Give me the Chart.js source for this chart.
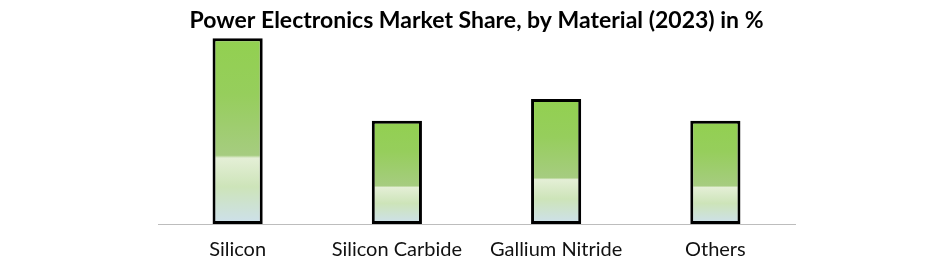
<!DOCTYPE html>
<html>
<head>
<meta charset="utf-8">
<script src="https://cdn.jsdelivr.net/npm/chart.js@4"></script>
<style>
  html, body { margin: 0; padding: 0; background: #fff; }
  #wrap { width: 941px; height: 277px; }
</style>
</head>
<body>
<div id="wrap"><canvas id="grafico"></canvas></div>
<script>
const materiales = ["Silicon", "Silicon Carbide", "Gallium Nitride", "Others"];
const cuotas = [45, 25, 30.3, 25];
const titulo = "Power Electronics Market Share, by Material (2023) in %";

// degradado por barra: verde arriba, banda clara abajo
const relleno = (ctx) => {
  const chart = ctx.chart;
  const y = chart.scales && chart.scales.y;
  if (!chart.chartArea || !y || ctx.type !== "data") return "#92D050";
  const top = y.getPixelForValue(ctx.raw);
  const base = y.getPixelForValue(0);
  if (!isFinite(top) || base - top < 1) return "#92D050";
  const g = chart.ctx.createLinearGradient(0, top, 0, base);
  g.addColorStop(0, "rgb(146,208,80)");
  g.addColorStop(0.3, "rgb(150,206,92)");
  g.addColorStop(0.63, "rgb(166,204,128)");
  g.addColorStop(0.645, "rgb(228,239,214)");
  g.addColorStop(0.8, "rgb(205,228,185)");
  g.addColorStop(1, "rgb(205,224,236)");
  return g;
};

let canvas = document.getElementById("grafico").getContext("2d");
var chart = new Chart(canvas, {
  type: "bar",
  data: {
    labels: materiales,
    datasets: [{
      label: "Share",
      data: cuotas,
      backgroundColor: relleno,
      borderColor: "#000",
      borderWidth: 3,
      borderSkipped: false,
      categoryPercentage: 1,
      barPercentage: 0.315
    }]
  },
  options: {
    responsive: true,
    maintainAspectRatio: false,
    animation: false,
    layout: { padding: { left: 158, right: 146, top: 0, bottom: 9 } },
    plugins: {
      legend: { display: false },
      tooltip: { enabled: false },
      title: {
        display: true,
        text: titulo,
        color: "#000",
        font: { family: "Lato", size: 23, weight: "bold" },
        padding: { top: 7, bottom: 2 }
      }
    },
    scales: {
      x: {
        grid: { display: false },
        border: { display: true, color: "#bdbdbd", width: 1, dash: [2, 2] },
        ticks: { color: "#111", padding: 6, font: { family: "Lato", size: 20 } }
      },
      y: { display: false, min: 0, max: 45.4 }
    }
  }
});
</script>
</body>
</html>
